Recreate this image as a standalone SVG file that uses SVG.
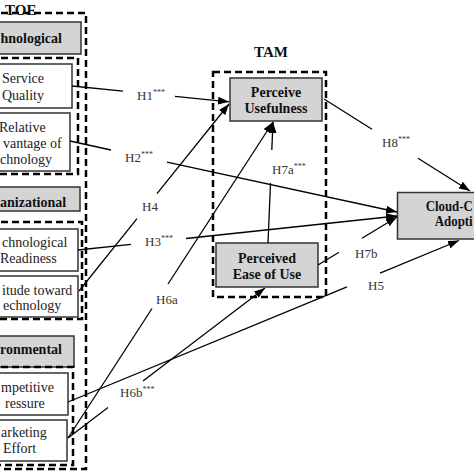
<svg xmlns="http://www.w3.org/2000/svg" width="474" height="474" viewBox="0 0 474 474">
<defs>
<marker id="arr" markerUnits="userSpaceOnUse" markerWidth="11" markerHeight="8" refX="11" refY="4" orient="auto">
<path d="M0,0 L11,4 L0,8 z" fill="#000"/>
</marker>
<style>
.dash{fill:none;stroke:#000;stroke-width:2.5;stroke-dasharray:7,4}
.hdr{fill:#d4d4d4;stroke:#333;stroke-width:1.5}
.box{fill:#fff;stroke:#333;stroke-width:1.5}
.bt{font-family:"Liberation Serif",serif;font-weight:bold;font-size:14px;fill:#111}
.rt{font-family:"Liberation Serif",serif;font-size:14px;fill:#222}
.lab{font-family:"Liberation Serif",serif;font-size:13px;fill:#333}
.sup{font-size:8px}
.c{text-anchor:middle}
#connectors line{stroke:#000;stroke-width:1.3}
</style>
</defs>
<rect width="474" height="474" fill="#fff"/>

<g id="toe-frame">
<rect class="dash" x="-10" y="13" width="96" height="456"/>
<text class="bt" x="5" y="15" style="font-size:15px">TOE</text>
</g>
<g id="tam-frame">
<rect class="dash" x="213" y="72" width="113" height="225"/>
<text class="bt c" x="271" y="57" style="font-size:15px">TAM</text>
</g>

<g id="technological">
<rect class="hdr" x="-10" y="22" width="91" height="32"/>
<text class="bt" x="0.5" y="43">hnological</text>
<rect class="dash" x="-10" y="58" width="88" height="116"/>
</g>
<g id="service-quality">
<rect class="box" x="-10" y="64" width="82" height="44"/>
<text class="rt" x="2" y="83">Service</text>
<text class="rt" x="2" y="100">Quality</text>
</g>
<g id="relative-advantage">
<rect class="box" x="-10" y="113" width="80" height="58"/>
<text class="rt" x="-1" y="132">Relative</text>
<text class="rt" x="3" y="148">vantage of</text>
<text class="rt" x="0" y="164">chnology</text>
</g>

<g id="organizational">
<rect class="hdr" x="-10" y="187" width="90" height="24"/>
<text class="bt" x="0" y="207">anizational</text>
<rect class="dash" x="-10" y="222" width="92" height="97"/>
</g>
<g id="tech-readiness">
<rect class="box" x="-10" y="229" width="88" height="42"/>
<text class="rt" x="2" y="247">chnological</text>
<text class="rt" x="0" y="263">Readiness</text>
</g>
<g id="attitude">
<rect class="box" x="-10" y="276" width="88" height="41"/>
<text class="rt" x="2" y="295">itude toward</text>
<text class="rt" x="3" y="310">echnology</text>
</g>

<g id="environmental">
<rect class="hdr" x="-10" y="336" width="84" height="31"/>
<text class="bt" x="0" y="354">ronmental</text>
<rect class="dash" x="-10" y="367" width="83" height="98"/>
</g>
<g id="competitive-pressure">
<rect class="box" x="-10" y="373" width="78" height="42"/>
<text class="rt" x="1" y="392">mpetitive</text>
<text class="rt" x="5" y="408">ressure</text>
</g>
<g id="marketing-effort">
<rect class="box" x="-10" y="420" width="77" height="41"/>
<text class="rt" x="1" y="437">arketing</text>
<text class="rt" x="3" y="453">Effort</text>
</g>

<g id="perceive-usefulness">
<rect class="hdr" x="230" y="78" width="92" height="43"/>
<text class="bt c" x="276" y="97">Perceive</text>
<text class="bt c" x="276" y="113">Usefulness</text>
</g>
<g id="perceived-ease">
<rect class="hdr" x="216" y="243" width="102" height="44"/>
<text class="bt c" x="267" y="263">Perceived</text>
<text class="bt c" x="267" y="279">Ease of Use</text>
</g>
<g id="cloud-adoption">
<rect class="hdr" x="397.5" y="192.5" width="90" height="46.5"/>
<text class="bt" x="425.7" y="211" textLength="47" lengthAdjust="spacingAndGlyphs">Cloud-C</text>
<text class="bt" x="434.7" y="226" textLength="38" lengthAdjust="spacingAndGlyphs">Adopti</text>
</g>

<g id="connectors">
<line x1="72" y1="86" x2="123" y2="91.2"/>
<line x1="175" y1="96.4" x2="229" y2="101.8" marker-end="url(#arr)"/>
<line x1="70" y1="141" x2="111" y2="150"/>
<line x1="167" y1="162.2" x2="397" y2="212" marker-end="url(#arr)"/>
<line x1="78" y1="250" x2="131" y2="244.4"/>
<line x1="186" y1="238.5" x2="397" y2="216" marker-end="url(#arr)"/>
<line x1="79" y1="291" x2="137" y2="218.7"/>
<line x1="157" y1="193.7" x2="229" y2="104" marker-end="url(#arr)"/>
<line x1="68" y1="402" x2="347" y2="286.8"/>
<line x1="380" y1="273.1" x2="459" y2="240.5" marker-end="url(#arr)"/>
<line x1="68" y1="438" x2="152" y2="308.5"/>
<line x1="168" y1="284" x2="273" y2="122" marker-end="url(#arr)"/>
<line x1="68" y1="438" x2="108" y2="407.5"/>
<line x1="143" y1="381" x2="265" y2="288" marker-end="url(#arr)"/>
<line x1="268" y1="243" x2="270.5" y2="183"/>
<line x1="271.8" y1="150" x2="273" y2="122" marker-end="url(#arr)"/>
<line x1="318" y1="265" x2="339" y2="252.2"/>
<line x1="362" y1="238.3" x2="397" y2="217" marker-end="url(#arr)"/>
<line x1="324" y1="99" x2="372" y2="129.2"/>
<line x1="418" y1="158.2" x2="470" y2="191" marker-end="url(#arr)"/>
</g>

<g id="labels">
<text class="lab" x="137" y="100">H1<tspan class="sup" dy="-5">***</tspan></text>
<text class="lab" x="125" y="162">H2<tspan class="sup" dy="-5">***</tspan></text>
<text class="lab" x="145" y="246">H3<tspan class="sup" dy="-5">***</tspan></text>
<text class="lab" x="142" y="211">H4</text>
<text class="lab" x="368" y="290">H5</text>
<text class="lab" x="156" y="304">H6a</text>
<text class="lab" x="120" y="397">H6b<tspan class="sup" dy="-5">***</tspan></text>
<text class="lab" x="272" y="174">H7a<tspan class="sup" dy="-5">***</tspan></text>
<text class="lab" x="355" y="258">H7b</text>
<text class="lab" x="382" y="147">H8<tspan class="sup" dy="-5">***</tspan></text>
</g>
</svg>
